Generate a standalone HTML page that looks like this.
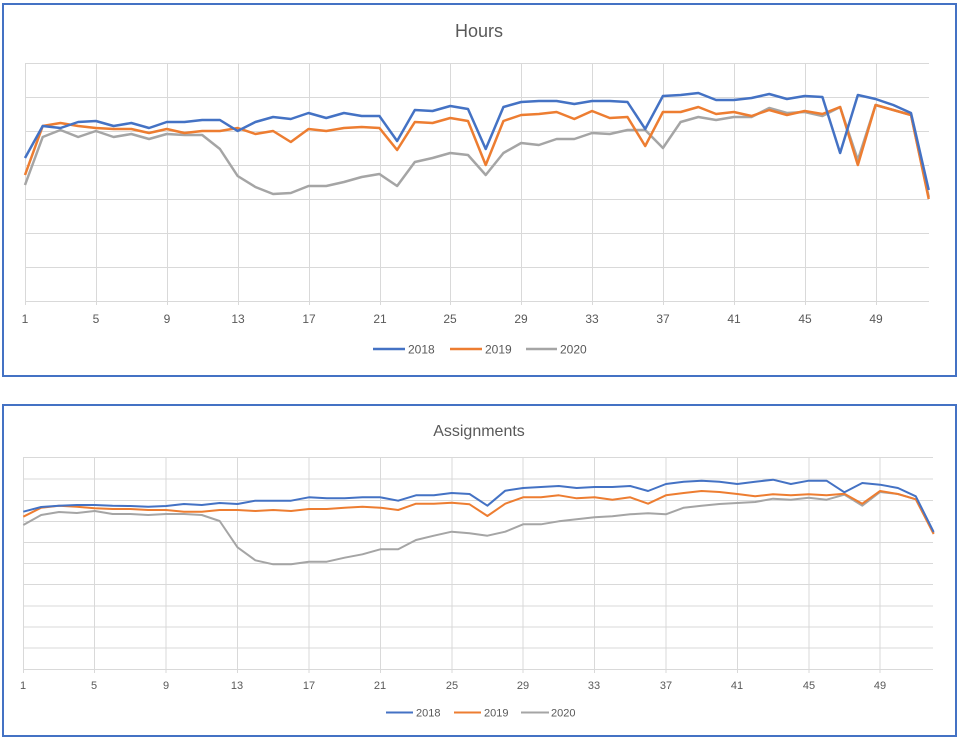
<!DOCTYPE html>
<html><head><meta charset="utf-8"><style>
html,body{margin:0;padding:0;background:#fff;}
svg{display:block;font-family:"Liberation Sans",sans-serif;}
</style></head><body>
<svg width="961" height="741" viewBox="0 0 961 741" xmlns="http://www.w3.org/2000/svg">
<rect x="0" y="0" width="961" height="741" fill="#fff"/>
<rect x="3" y="4" width="953" height="372" fill="none" stroke="#4472C4" stroke-width="2"/>
<rect x="3" y="405" width="953" height="331" fill="none" stroke="#4472C4" stroke-width="2"/>

<!-- TOP CHART -->
<text x="479" y="37" font-size="18" fill="#595959" text-anchor="middle">Hours</text>
<g stroke="#D9D9D9" stroke-width="1">
<line x1="25" x2="929" y1="63.5" y2="63.5"/><line x1="25" x2="929" y1="97.5" y2="97.5"/>
<line x1="25" x2="929" y1="131.5" y2="131.5"/><line x1="25" x2="929" y1="165.5" y2="165.5"/>
<line x1="25" x2="929" y1="199.5" y2="199.5"/><line x1="25" x2="929" y1="233.5" y2="233.5"/>
<line x1="25" x2="929" y1="267.5" y2="267.5"/><line x1="25" x2="929" y1="301.5" y2="301.5"/>
<line x1="25.5" x2="25.5" y1="63" y2="305"/><line x1="96.5" x2="96.5" y1="63" y2="305"/>
<line x1="167.5" x2="167.5" y1="63" y2="305"/><line x1="238.5" x2="238.5" y1="63" y2="305"/>
<line x1="309.5" x2="309.5" y1="63" y2="305"/><line x1="380.5" x2="380.5" y1="63" y2="305"/>
<line x1="450.5" x2="450.5" y1="63" y2="305"/><line x1="521.5" x2="521.5" y1="63" y2="305"/>
<line x1="592.5" x2="592.5" y1="63" y2="305"/><line x1="663.5" x2="663.5" y1="63" y2="305"/>
<line x1="734.5" x2="734.5" y1="63" y2="305"/><line x1="805.5" x2="805.5" y1="63" y2="305"/>
<line x1="876.5" x2="876.5" y1="63" y2="305"/>
</g>
<g font-size="12" fill="#595959" text-anchor="middle">
<text x="25" y="323">1</text><text x="96" y="323">5</text><text x="167" y="323">9</text><text x="238" y="323">13</text>
<text x="309" y="323">17</text><text x="380" y="323">21</text><text x="450" y="323">25</text><text x="521" y="323">29</text>
<text x="592" y="323">33</text><text x="663" y="323">37</text><text x="734" y="323">41</text><text x="805" y="323">45</text>
<text x="876" y="323">49</text>
</g>
<g transform="translate(7.28,0) scale(17.72,1)" fill="none" stroke-width="2.5" stroke-linejoin="round">
<polyline vector-effect="non-scaling-stroke" stroke="#A5A5A5" points="1,185 2,137 3,130 4,137 5,131 6,137 7,134 8,139 9,134 10,135 11,135 12,149 13,176 14,187 15,194 16,193 17,186 18,186 19,182 20,177 21,174 22,186 23,162 24,158 25,153 26,155 27,175 28,153 29,143 30,145 31,139 32,139 33,133 34,134 35,130 36,130 37,148 38,122 39,117 40,120 41,117 42,117 43,108 44,113 45,112 46,116 47,107 48,160 49,105 50,110 51,115 52,197"/>
<polyline vector-effect="non-scaling-stroke" stroke="#ED7D31" points="1,175 2,126 3,123 4,126 5,128 6,129 7,129 8,133 9,129 10,133 11,131 12,131 13,128 14,134 15,131 16,142 17,129 18,131 19,128 20,127 21,128 22,150 23,122 24,123 25,118 26,121 27,165 28,121 29,115 30,114 31,112 32,119 33,111 34,118 35,117 36,146 37,112 38,112 39,107 40,114 41,112 42,116 43,110 44,115 45,111 46,114 47,107 48,165 49,105 50,110 51,115 52,199"/>
<polyline vector-effect="non-scaling-stroke" stroke="#4472C4" points="1,158 2,126 3,128 4,122 5,121 6,126 7,123 8,128 9,122 10,122 11,120 12,120 13,131 14,122 15,117 16,119 17,113 18,118 19,113 20,116 21,116 22,141 23,110 24,111 25,106 26,109 27,149 28,107 29,102 30,101 31,101 32,104 33,101 34,101 35,102 36,129 37,96 38,95 39,93 40,100 41,100 42,98 43,94 44,99 45,96 46,97 47,153 48,95 49,99 50,105 51,113 52,190"/>
</g>
<g font-size="12" fill="#595959">
<line x1="373" x2="405" y1="349" y2="349" stroke="#4472C4" stroke-width="2.5"/><text x="408" y="353.5">2018</text>
<line x1="450" x2="482" y1="349" y2="349" stroke="#ED7D31" stroke-width="2.5"/><text x="485" y="353.5">2019</text>
<line x1="526" x2="557" y1="349" y2="349" stroke="#A5A5A5" stroke-width="2.5"/><text x="560" y="353.5">2020</text>
</g>

<!-- BOTTOM CHART -->
<text x="479" y="436" font-size="16" fill="#595959" text-anchor="middle">Assignments</text>
<g stroke="#D9D9D9" stroke-width="1">
<line x1="23" x2="933" y1="457.5" y2="457.5"/><line x1="23" x2="933" y1="479" y2="479"/>
<line x1="23" x2="933" y1="500.5" y2="500.5"/><line x1="23" x2="933" y1="521.5" y2="521.5"/>
<line x1="23" x2="933" y1="542.5" y2="542.5"/><line x1="23" x2="933" y1="563.5" y2="563.5"/>
<line x1="23" x2="933" y1="584.5" y2="584.5"/><line x1="23" x2="933" y1="606" y2="606"/>
<line x1="23" x2="933" y1="627" y2="627"/><line x1="23" x2="933" y1="648" y2="648"/>
<line x1="23" x2="933" y1="669.5" y2="669.5"/>
<line x1="23.5" x2="23.5" y1="457" y2="673"/><line x1="94.5" x2="94.5" y1="457" y2="673"/>
<line x1="166" x2="166" y1="457" y2="673"/><line x1="237.5" x2="237.5" y1="457" y2="673"/>
<line x1="309" x2="309" y1="457" y2="673"/><line x1="380.5" x2="380.5" y1="457" y2="673"/>
<line x1="452" x2="452" y1="457" y2="673"/><line x1="523" x2="523" y1="457" y2="673"/>
<line x1="594.5" x2="594.5" y1="457" y2="673"/><line x1="666" x2="666" y1="457" y2="673"/>
<line x1="737.5" x2="737.5" y1="457" y2="673"/><line x1="809" x2="809" y1="457" y2="673"/>
<line x1="880" x2="880" y1="457" y2="673"/>
</g>
<g font-size="11" fill="#595959" text-anchor="middle">
<text x="23" y="689">1</text><text x="94" y="689">5</text><text x="166" y="689">9</text><text x="237" y="689">13</text>
<text x="309" y="689">17</text><text x="380" y="689">21</text><text x="452" y="689">25</text><text x="523" y="689">29</text>
<text x="594" y="689">33</text><text x="666" y="689">37</text><text x="737" y="689">41</text><text x="809" y="689">45</text>
<text x="880" y="689">49</text>
</g>
<g transform="translate(5.45,0) scale(17.85,1)" fill="none" stroke-width="2" stroke-linejoin="round">
<polyline vector-effect="non-scaling-stroke" stroke="#A5A5A5" points="1,525 2,515 3,512 4,513 5,511 6,514 7,514 8,515 9,514 10,514 11,515 12,521 13,547.3 14,560.3 15,564.3 16,564.3 17,561.7 18,561.7 19,557.7 20,554.3 21,549.3 22,549.3 23,540 24,535.7 25,531.7 26,533.3 27,535.7 28,531.7 29,524.3 30,524.3 31,521.3 32,519.3 33,517.3 34,516.3 35,514.3 36,513.3 37,514.3 38,507.7 39,505.7 40,504 41,503 42,502 43,498.7 44,499.7 45,497.7 46,499.7 47,494.7 48,505.7 49,492 50,494 51,499.3 52,533.3"/>
<polyline vector-effect="non-scaling-stroke" stroke="#ED7D31" points="1,516.7 2,507.7 3,505.7 4,506.7 5,508.3 6,509 7,509 8,510 9,510 10,511.7 11,511.7 12,510 13,510 14,511 15,510 16,511 17,509 18,509 19,507.7 20,506.7 21,507.7 22,510 23,503.7 24,503.7 25,502.7 26,504.3 27,516 28,503.7 29,497.3 30,497.3 31,495.3 32,498.3 33,497.3 34,499.7 35,497.3 36,503.7 37,495.3 38,493 39,491 40,492 41,494 42,496.3 43,494.3 44,495.3 45,494.3 46,495.3 47,493.7 48,503.7 49,491 50,494 51,499.3 52,534"/>
<polyline vector-effect="non-scaling-stroke" stroke="#4472C4" points="1,511.7 2,507 3,505.7 4,505 5,505 6,505.7 7,506 8,506.7 9,506 10,504 11,505 12,503 13,504 14,500.7 15,500.7 16,500.7 17,497.3 18,498.3 19,498.3 20,497.3 21,497.3 22,500.7 23,495.3 24,495.3 25,493 26,494 27,505.7 28,490.7 29,488 30,487 31,486 32,488 33,487 34,487 35,486 36,491 37,484 38,481.7 39,480.7 40,481.7 41,484 42,481.7 43,479.7 44,484 45,480.7 46,480.7 47,492.3 48,483 49,484.7 50,488 51,496.3 52,532"/>
</g>
<g font-size="11" fill="#595959">
<line x1="386" x2="413" y1="712.5" y2="712.5" stroke="#4472C4" stroke-width="2"/><text x="416" y="716.5">2018</text>
<line x1="454" x2="481" y1="712.5" y2="712.5" stroke="#ED7D31" stroke-width="2"/><text x="484" y="716.5">2019</text>
<line x1="521" x2="549" y1="712.5" y2="712.5" stroke="#A5A5A5" stroke-width="2"/><text x="551" y="716.5">2020</text>
</g>
</svg>
</body></html>
